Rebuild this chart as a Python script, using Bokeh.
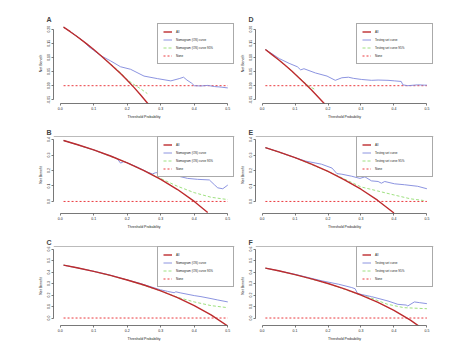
from bokeh.plotting import figure
from bokeh.layouts import column, row
from bokeh.models import FixedTicker, Legend, LegendItem, Span, Range1d
from bokeh.embed import file_html
from bokeh.resources import INLINE

FONT = "Liberation Sans"

# ---------------- data ----------------
X_TICKS = [0.0, 0.1, 0.2, 0.3, 0.4, 0.5]
X_TICK_LABELS = ["0.0", "0.1", "0.2", "0.3", "0.4", "0.5"]

Y_TICKS_AD = [-0.05, 0.0, 0.05, 0.10, 0.15, 0.20]
Y_TICK_LABELS_AD = ["-0.05", "0.00", "0.05", "0.10", "0.15", "0.20"]
Y_TICKS_BE = [0.0, 0.1, 0.2, 0.3, 0.4]
Y_TICK_LABELS_BE = ["0.0", "0.1", "0.2", "0.3", "0.4"]
Y_TICKS_CF = [0.0, 0.1, 0.2, 0.3, 0.4, 0.5, 0.6]
Y_TICK_LABELS_CF = ["0.0", "0.1", "0.2", "0.3", "0.4", "0.5", "0.6"]

NONE_T = [0.01, 0.50]
NONE_NB = [0.0, 0.0]

# Panel A
A_all_t = [0.01, 0.03, 0.05, 0.08, 0.10, 0.12, 0.15, 0.18, 0.20, 0.22, 0.24, 0.26, 0.28]
A_all_nb = [0.207, 0.191, 0.174, 0.147, 0.128, 0.108, 0.076, 0.043, 0.019, -0.006, -0.033, -0.061, -0.090]
A_nom_t = [0.01, 0.04, 0.07, 0.085, 0.10, 0.12, 0.15, 0.18, 0.21, 0.25, 0.29, 0.33, 0.355, 0.368, 0.378, 0.392, 0.40, 0.42, 0.44, 0.46, 0.48, 0.50]
A_nom_nb = [0.207, 0.183, 0.157, 0.138, 0.125, 0.107, 0.088, 0.067, 0.058, 0.034, 0.025, 0.017, 0.025, 0.030, 0.020, 0.009, 0.0, -0.001, 0.001, -0.003, -0.005, -0.008]
A_ci_t = [0.01, 0.05, 0.10, 0.15, 0.18, 0.20, 0.22, 0.24, 0.26]
A_ci_nb = [0.207, 0.174, 0.128, 0.077, 0.046, 0.021, 0.004, -0.011, -0.028]

# Panel B
B_all_t = [0.01, 0.05, 0.10, 0.15, 0.20, 0.25, 0.30, 0.35, 0.40, 0.44]
B_all_nb = [0.394, 0.368, 0.333, 0.294, 0.250, 0.200, 0.143, 0.077, 0.0, -0.071]
B_nom_t = [0.01, 0.05, 0.10, 0.15, 0.17, 0.18, 0.19, 0.20, 0.23, 0.26, 0.275, 0.285, 0.30, 0.31, 0.34, 0.38, 0.41, 0.445, 0.46, 0.47, 0.485, 0.50]
B_nom_nb = [0.394, 0.368, 0.333, 0.294, 0.277, 0.248, 0.258, 0.250, 0.222, 0.190, 0.178, 0.186, 0.185, 0.184, 0.170, 0.149, 0.143, 0.139, 0.108, 0.088, 0.082, 0.106]
B_ci_t = [0.01, 0.10, 0.20, 0.30, 0.35, 0.40, 0.45, 0.50]
B_ci_nb = [0.394, 0.333, 0.250, 0.148, 0.098, 0.057, 0.027, 0.012]

# Panel C
C_all_t = [0.01, 0.05, 0.10, 0.15, 0.20, 0.25, 0.30, 0.35, 0.40, 0.45, 0.50]
C_all_nb = [0.460, 0.437, 0.406, 0.371, 0.331, 0.287, 0.236, 0.177, 0.108, 0.027, -0.070]
C_nom_t = [0.01, 0.05, 0.10, 0.14, 0.15, 0.20, 0.24, 0.25, 0.30, 0.32, 0.34, 0.345, 0.36, 0.40, 0.42, 0.45, 0.47, 0.50]
C_nom_nb = [0.460, 0.437, 0.406, 0.380, 0.372, 0.331, 0.300, 0.290, 0.245, 0.232, 0.220, 0.228, 0.218, 0.195, 0.186, 0.169, 0.157, 0.140]
C_ci_t = [0.01, 0.10, 0.20, 0.30, 0.35, 0.40, 0.45, 0.50]
C_ci_nb = [0.460, 0.406, 0.331, 0.236, 0.180, 0.140, 0.108, 0.090]

# Panel D
D_all_t = [0.01, 0.03, 0.05, 0.07, 0.09, 0.11, 0.13, 0.15, 0.17, 0.19]
D_all_nb = [0.128, 0.110, 0.092, 0.072, 0.052, 0.030, 0.008, -0.015, -0.040, -0.065]
D_nom_t = [0.01, 0.03, 0.052, 0.082, 0.107, 0.117, 0.127, 0.162, 0.197, 0.222, 0.242, 0.262, 0.277, 0.302, 0.332, 0.352, 0.382, 0.402, 0.422, 0.427, 0.442, 0.472, 0.492, 0.50]
D_nom_nb = [0.128, 0.113, 0.096, 0.079, 0.067, 0.056, 0.060, 0.045, 0.034, 0.019, 0.028, 0.030, 0.026, 0.022, 0.019, 0.020, 0.019, 0.017, 0.015, 0.003, 0.0, 0.003, 0.002, 0.002]
D_ci_t = [0.01, 0.05, 0.09, 0.12, 0.14, 0.16]
D_ci_nb = [0.128, 0.092, 0.052, 0.020, 0.0, -0.013]

# Panel E
E_all_t = [0.01, 0.05, 0.10, 0.15, 0.20, 0.25, 0.30, 0.35, 0.40]
E_all_nb = [0.348, 0.321, 0.283, 0.241, 0.194, 0.140, 0.079, 0.008, -0.075]
E_nom_t = [0.01, 0.05, 0.10, 0.132, 0.18, 0.212, 0.227, 0.242, 0.272, 0.297, 0.312, 0.332, 0.352, 0.362, 0.372, 0.402, 0.432, 0.472, 0.50]
E_nom_nb = [0.348, 0.321, 0.283, 0.261, 0.241, 0.216, 0.180, 0.176, 0.163, 0.149, 0.159, 0.133, 0.129, 0.118, 0.129, 0.114, 0.108, 0.098, 0.082]
E_ci_t = [0.01, 0.10, 0.20, 0.25, 0.30, 0.35, 0.40, 0.45, 0.49]
E_ci_nb = [0.348, 0.283, 0.194, 0.145, 0.094, 0.068, 0.042, 0.017, 0.006]

# Panel F
F_all_t = [0.01, 0.05, 0.10, 0.15, 0.20, 0.25, 0.30, 0.35, 0.40, 0.45, 0.50]
F_all_nb = [0.434, 0.411, 0.378, 0.341, 0.300, 0.253, 0.200, 0.138, 0.067, -0.018, -0.120]
F_nom_t = [0.01, 0.05, 0.10, 0.15, 0.182, 0.232, 0.272, 0.282, 0.29, 0.332, 0.382, 0.412, 0.437, 0.442, 0.462, 0.477, 0.50]
F_nom_nb = [0.434, 0.411, 0.380, 0.345, 0.323, 0.294, 0.265, 0.255, 0.212, 0.186, 0.148, 0.119, 0.113, 0.105, 0.140, 0.134, 0.125]
F_ci_t = [0.01, 0.10, 0.20, 0.30, 0.33, 0.38, 0.43, 0.50]
F_ci_nb = [0.434, 0.378, 0.300, 0.200, 0.175, 0.120, 0.090, 0.081]

LEGEND_LEFT = ["All", "Nomogram (OS) curve", "Nomogram (OS) curve 95%", "None"]
LEGEND_RIGHT = ["All", "Testing set curve", "Testing set curve 95%", "None"]

# ---------------- styling / layout ----------------
COL_W = 237
ROW_H = [121, 110, 115]
BORDER_TOP = [23, 15, 15]
BORDER_BOTTOM = [14, 14, 21]
BORDER_LEFT = [53, 16]
BORDER_RIGHT = [3, 41]

C_ALL = "#BD2B2E"
C_NOM = "#7F88DC"
C_CI = "#93DC72"
C_NONE = "#EA3A3F"


def panel(letter, r, c, all_t, all_nb, nom_t, nom_nb, ci_t, ci_nb,
          yt, ytl, y_lo, y_hi, labels, top_line):
    p = figure(width=COL_W, height=ROW_H[r], output_backend="svg",
               toolbar_location=None, x_range=Range1d(-0.02, 0.52),
               y_range=Range1d(y_lo, y_hi), title=letter)
    p.min_border = 0
    p.min_border_left = BORDER_LEFT[c]
    p.min_border_right = BORDER_RIGHT[c]
    p.min_border_top = BORDER_TOP[r]
    p.min_border_bottom = BORDER_BOTTOM[r]
    p.outline_line_color = None
    p.grid.visible = False
    p.background_fill_color = "white"
    p.border_fill_color = "white"

    p.title.align = "left"
    p.title.offset = -7
    p.title.standoff = 1
    p.title.text_font = FONT
    p.title.text_font_size = "7px"
    p.title.text_font_style = "bold"

    for ax in (p.xaxis[0], p.yaxis[0]):
        ax.axis_line_color = "#555555"
        ax.axis_line_width = 0.8
        ax.major_tick_line_color = "#555555"
        ax.major_tick_line_width = 0.8
        ax.major_tick_out = 2
        ax.major_tick_in = 0
        ax.minor_tick_line_color = None
        ax.major_label_text_font = FONT
        ax.major_label_text_font_size = "3.5px"
        ax.major_label_text_color = "#222222"
        ax.major_label_standoff = 1
        ax.axis_label_text_font = FONT
        ax.axis_label_text_font_size = "3.5px"
        ax.axis_label_text_font_style = "normal"
        ax.axis_label_text_color = "#222222"
        ax.axis_label_standoff = 2

    p.xaxis.ticker = FixedTicker(ticks=X_TICKS)
    p.xaxis.major_label_overrides = {t: s for t, s in zip(X_TICKS, X_TICK_LABELS)}
    p.xaxis.bounds = (X_TICKS[0], X_TICKS[-1])
    p.xaxis.axis_label = "Threshold Probability"

    p.yaxis.ticker = FixedTicker(ticks=yt)
    p.yaxis.major_label_overrides = {t: s for t, s in zip(yt, ytl)}
    p.yaxis.bounds = (yt[0], yt[-1])
    p.yaxis.major_label_orientation = "vertical"
    p.yaxis.axis_label = "Net Benefit"

    r_none = p.line(NONE_T, NONE_NB, line_color=C_NONE, line_width=1.0, line_dash="2 2")
    r_ci = p.line(ci_t, ci_nb, line_color=C_CI, line_width=0.9, line_dash="3 2")
    r_nom = p.line(nom_t, nom_nb, line_color=C_NOM, line_width=0.9)
    r_all = p.line(all_t, all_nb, line_color=C_ALL, line_width=1.4)

    if top_line:
        p.add_layout(Span(location=y_hi, dimension="width", line_color="#555555", line_width=0.8))

    leg = Legend(items=[LegendItem(label=labels[0], renderers=[r_all]),
                        LegendItem(label=labels[1], renderers=[r_nom]),
                        LegendItem(label=labels[2], renderers=[r_ci]),
                        LegendItem(label=labels[3], renderers=[r_none])],
                 location="top_right")
    leg.margin = 0
    leg.padding = 5
    leg.spacing = 3
    leg.glyph_width = 9
    leg.glyph_height = 5
    leg.label_height = 5
    leg.label_width = 52
    leg.label_standoff = 4
    leg.label_text_font = FONT
    leg.label_text_font_size = "3px"
    leg.label_text_color = "#222222"
    leg.border_line_color = "#555555"
    leg.border_line_width = 0.8
    leg.background_fill_alpha = 1.0
    p.add_layout(leg)
    return p


pA = panel("A", 0, 0, A_all_t, A_all_nb, A_nom_t, A_nom_nb, A_ci_t, A_ci_nb,
           Y_TICKS_AD, Y_TICK_LABELS_AD, -0.063, 0.22, LEGEND_LEFT, False)
pD = panel("D", 0, 1, D_all_t, D_all_nb, D_nom_t, D_nom_nb, D_ci_t, D_ci_nb,
           Y_TICKS_AD, Y_TICK_LABELS_AD, -0.063, 0.22, LEGEND_RIGHT, False)
pB = panel("B", 1, 0, B_all_t, B_all_nb, B_nom_t, B_nom_nb, B_ci_t, B_ci_nb,
           Y_TICKS_BE, Y_TICK_LABELS_BE, -0.078, 0.42, LEGEND_LEFT, True)
pE = panel("E", 1, 1, E_all_t, E_all_nb, E_nom_t, E_nom_nb, E_ci_t, E_ci_nb,
           Y_TICKS_BE, Y_TICK_LABELS_BE, -0.078, 0.42, LEGEND_RIGHT, True)
pC = panel("C", 2, 0, C_all_t, C_all_nb, C_nom_t, C_nom_nb, C_ci_t, C_ci_nb,
           Y_TICKS_CF, Y_TICK_LABELS_CF, -0.065, 0.622, LEGEND_LEFT, True)
pF = panel("F", 2, 1, F_all_t, F_all_nb, F_nom_t, F_nom_nb, F_ci_t, F_ci_nb,
           Y_TICKS_CF, Y_TICK_LABELS_CF, -0.065, 0.622, LEGEND_RIGHT, True)

layout = column(row(pA, pD), row(pB, pE), row(pC, pF))

open("out.html", "w").write(file_html(layout, INLINE))
